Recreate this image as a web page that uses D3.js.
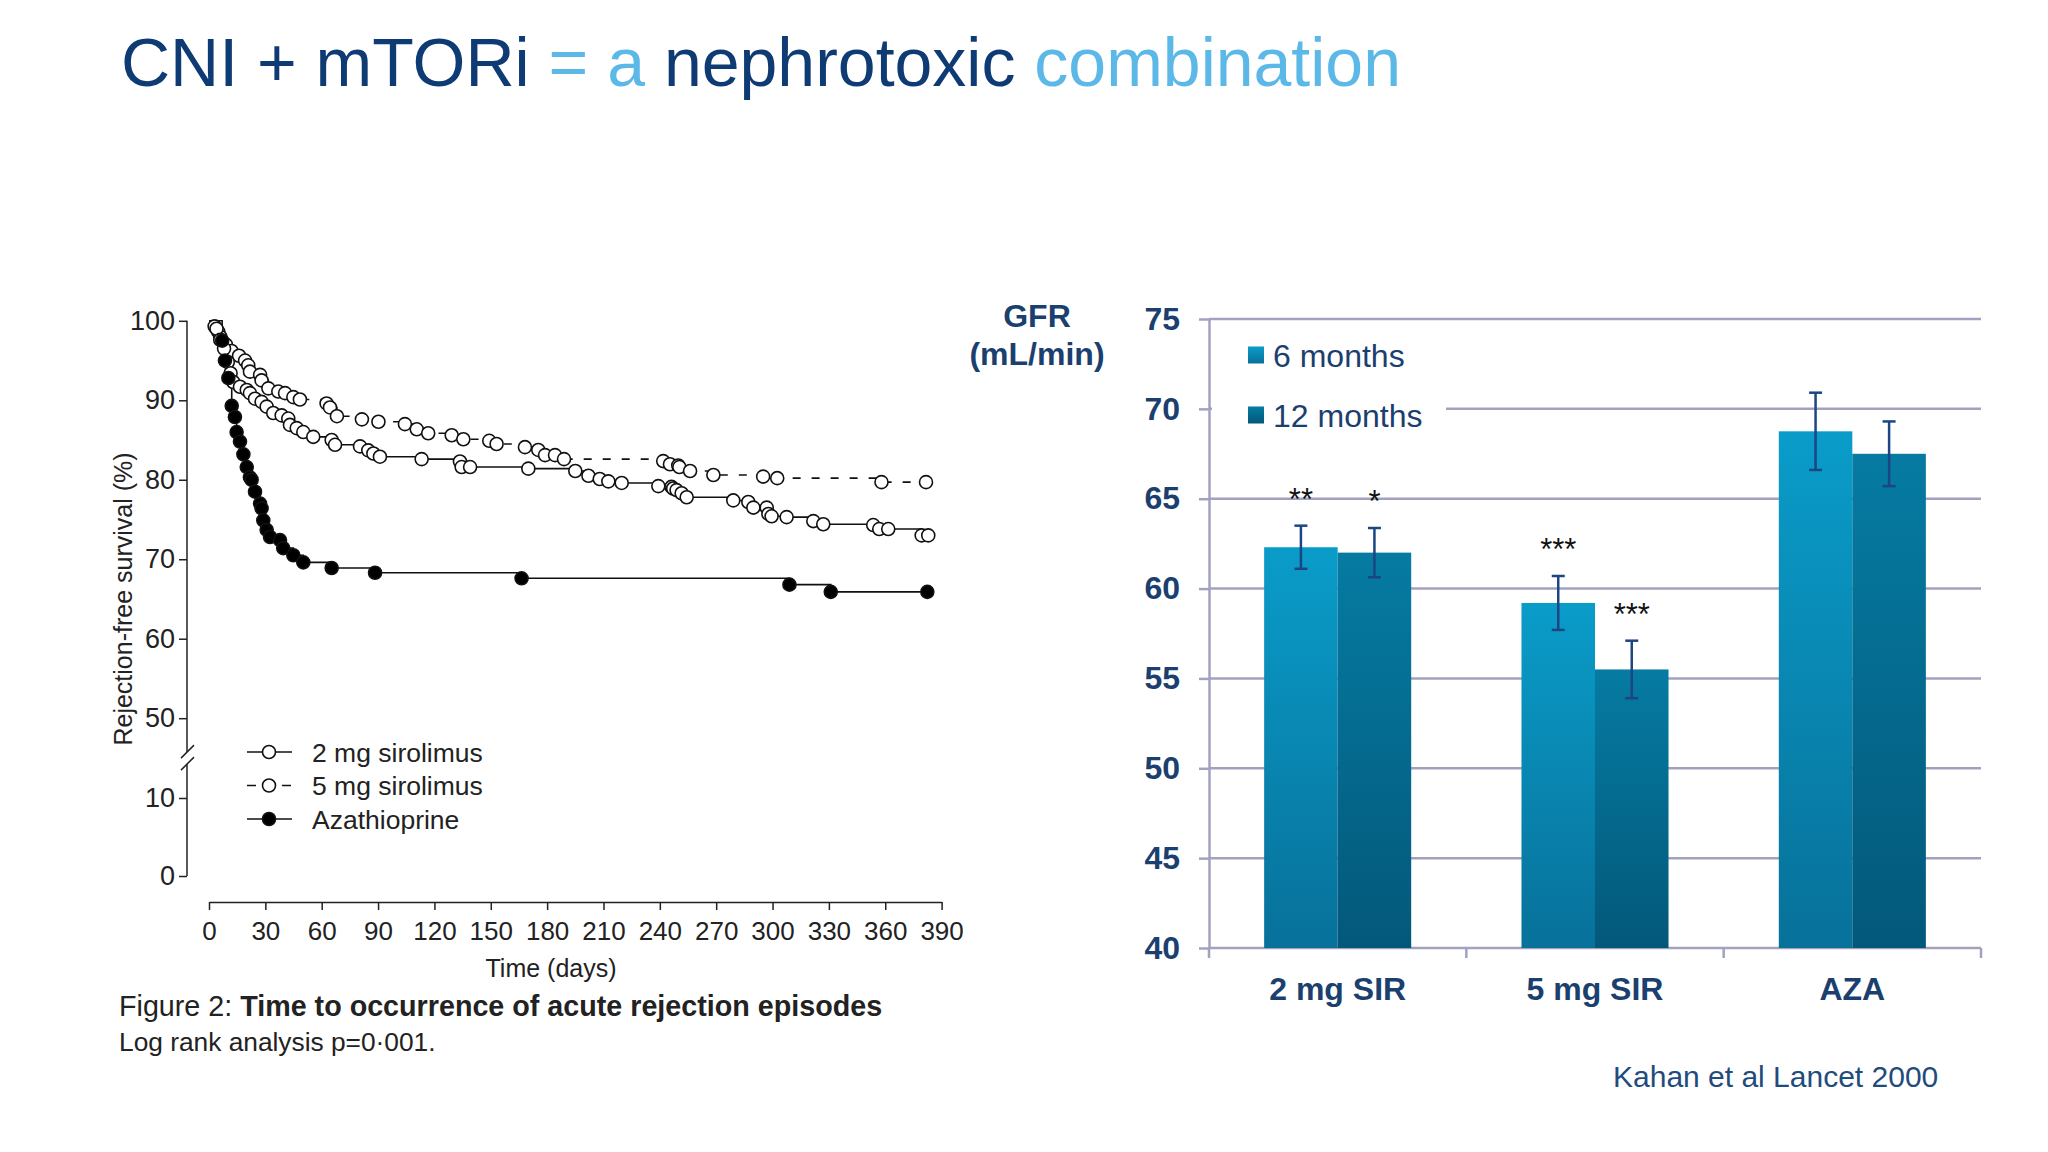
<!DOCTYPE html>
<html>
<head>
<meta charset="utf-8">
<script src="https://cdn.jsdelivr.net/npm/d3@7"></script>
<style>
  html, body { margin: 0; padding: 0; background: #fff; }
  svg { display: block; font-family: "Liberation Sans", Arial, sans-serif; }
</style>
</head>
<body>
<svg id="chart" width="2048" height="1152"></svg>
<script>
// ---------- data ----------
const titleParts = ["CNI + mTORi ", "= a ", "nephrotoxic ", "combination"];

// Kaplan-Meier curves, [day, rejection-free survival %]
const sir2mg = [[0,100],[4,99.0],[6,97.6],[8,96.5],[10,94.8],[11.5,93.4],[12.9,92.3],[16.5,91.7],[20.1,91.3],
  [21.8,90.9],[24.5,90.2],[28,89.8],[30.7,89.2],[34.2,88.4],[38.7,88.1],[42.2,87.7],[43.1,86.9],[46.7,86.5],
  [50.2,86.0],[55.5,85.4],[65.3,85.0],[67.1,84.4],[80.4,84.2],[84.8,83.7],[87.5,83.3],[91,82.9],[113.2,82.6],
  [133.6,82.3],[134.5,81.6],[139,81.6],[170,81.4],[195,81.1],[202,80.5],[208,80.1],[212.6,79.8],[219.7,79.6],
  [239.2,79.2],[246.2,79.1],[247.1,78.9],[248.9,78.7],[251.6,78.3],[254.3,77.8],[279.1,77.4],[287.1,77.2],
  [289.8,76.5],[296.9,76.5],[297.8,75.7],[299.5,75.4],[307.5,75.3],[321.7,74.8],[327,74.4],[353.6,74.3],
  [356.8,73.8],[361.6,73.8],[379.4,73.0],[382.9,73.0]];
const sir5mg = [[0,100],[3,99.3],[5,98.6],[6,98.0],[9,97.0],[12,96.2],[16,95.6],[19.2,95.0],[20.9,94.4],
  [21.8,93.6],[27.2,93.2],[28,92.5],[31.6,91.5],[36.9,91.1],[40.5,90.9],[44.9,90.4],[48.4,90.1],[62.6,89.6],
  [64.4,89.1],[68.1,88.0],[81.4,87.6],[90.2,87.3],[104.3,87.0],[110.6,86.35],[116.7,85.85],[129.2,85.6],
  [135.4,85.1],[149.2,84.9],[153.1,84.5],[168.2,84.1],[175.3,83.75],[178.9,83.1],[184.2,83.1],[189,82.6],
  [241.8,82.35],[245.4,81.95],[249.8,81.8],[250.4,81.6],[256.1,81.1],[268.5,80.6],[295,80.4],[302.5,80.2],
  [358,79.7],[381.7,79.7]];
const azathioprine = [[0,100],[7,97.5],[8.5,95.0],[10.3,92.8],[12.1,89.3],[13.8,87.9],[14.7,86.0],[16.5,84.8],
  [18.3,83.2],[20.1,81.6],[21.8,80.3],[22.7,80.0],[24.5,78.5],[27.2,77.0],[28,76.4],[28.9,74.9],[30.7,73.7],
  [32.5,72.8],[37.8,72.4],[39.5,71.4],[44.9,70.5],[50.2,69.6],[65.3,68.9],[88.4,68.3],[166.4,67.6],
  [309,66.8],[331,65.9],[382.4,65.9]];
const kmLabels = ["2 mg sirolimus", "5 mg sirolimus", "Azathioprine"];
const dayTicks = [0,30,60,90,120,150,180,210,240,270,300,330,360,390];
const survivalTicks = [0,10,50,60,70,80,90,100];

// GFR bars
const gfrGroups = ["2 mg SIR", "5 mg SIR", "AZA"];
const gfrSeries = ["6 months", "12 months"];
const gfr6 = [62.3, 59.2, 68.75];
const gfr12 = [62.0, 55.5, 67.5];
const err6 = [1.2, 1.5, 2.15];
const err12 = [1.37, 1.6, 1.8];
const stars6 = ["**", "***", ""];
const stars12 = ["*", "***", ""];
const gfrTicks = [40,45,50,55,60,65,70,75];

// ---------- setup ----------
const svg = d3.select("#chart");
const navy = "#1b3f6e";

svg.append("rect").attr("width", 2048).attr("height", 1152).attr("fill", "#fff");

// title
const title = svg.append("text")
    .attr("x", 121).attr("y", 86)
    .attr("font-size", 68);
title.selectAll("tspan")
    .data(titleParts)
    .enter().append("tspan")
    .attr("fill", (d, i) => i % 2 === 0 ? "#0f3b74" : "#5cb8e6")
    .text(d => d);

// ---------- left: Kaplan-Meier ----------
const x = d3.scaleLinear().domain([0, 390]).range([209, 941.6]);
const y = d3.scaleLinear().domain([0, 10, 50, 100]).range([876, 798, 718.2, 320.8]);

const left = svg.append("g").attr("fill", "#222");

// y axis (with break)
const yAxis = left.append("g")
    .attr("transform", "translate(187,0)")
    .call(d3.axisLeft(y).tickValues(survivalTicks).tickSize(8).tickPadding(4));
yAxis.select(".domain").remove();
yAxis.selectAll("line").attr("stroke", "#222").attr("stroke-width", 1.5);
yAxis.selectAll("text").attr("font-size", 27).attr("fill", "#222")
    .attr("font-family", "Liberation Sans, Arial, sans-serif");

const yMid = (y(10) + y(50)) / 2;
left.append("line").attr("x1", 187).attr("x2", 187).attr("y1", y(100)).attr("y2", yMid - 6)
    .attr("stroke", "#222").attr("stroke-width", 1.5);
left.append("line").attr("x1", 187).attr("x2", 187).attr("y1", yMid + 6).attr("y2", y(0))
    .attr("stroke", "#222").attr("stroke-width", 1.5);
[-6, 6].forEach(off => {
    left.append("line")
        .attr("x1", 181).attr("y1", yMid + off + 6)
        .attr("x2", 194).attr("y2", yMid + off - 7)
        .attr("stroke", "#222").attr("stroke-width", 1.5);
});

// x axis
const xAxis = left.append("g")
    .attr("transform", "translate(0,902)")
    .call(d3.axisBottom(x).tickValues(dayTicks).tickSize(8).tickSizeOuter(0).tickPadding(12));
xAxis.selectAll("line, path").attr("stroke", "#222").attr("stroke-width", 1.5);
xAxis.selectAll("text").attr("font-size", 26).attr("fill", "#222")
    .attr("font-family", "Liberation Sans, Arial, sans-serif");

left.append("text")
    .attr("x", 551).attr("y", 977)
    .attr("text-anchor", "middle").attr("font-size", 25)
    .text("Time (days)");

left.append("text")
    .attr("transform", "translate(132,599) rotate(-90)")
    .attr("text-anchor", "middle").attr("font-size", 25)
    .text("Rejection-free survival (%)");

// curves
const km = d3.line()
    .x(d => x(d[0]))
    .y(d => y(d[1]))
    .curve(d3.curveStepAfter);

const curves = [
    { data: sir5mg, dash: "8,11", fill: "#fff" },
    { data: sir2mg, dash: null, fill: "#fff" },
    { data: azathioprine, dash: null, fill: "#000" }
];

curves.forEach(c => {
    left.append("path")
        .attr("d", km(c.data))
        .attr("fill", "none")
        .attr("stroke", "#111")
        .attr("stroke-width", 1.6)
        .attr("stroke-dasharray", c.dash);
});
curves.forEach(c => {
    left.append("g").selectAll("circle")
        .data(c.data.slice(1))
        .enter().append("circle")
        .attr("cx", d => x(d[0]))
        .attr("cy", d => y(d[1]))
        .attr("r", 6.5)
        .attr("fill", c.fill)
        .attr("stroke", "#111")
        .attr("stroke-width", 1.6);
});

// legend
const legendRows = [
    { label: kmLabels[0], dash: null, fill: "#fff" },
    { label: kmLabels[1], dash: "9,26", fill: "#fff" },
    { label: kmLabels[2], dash: null, fill: "#000" }
];
const lg = left.append("g").selectAll("g")
    .data(legendRows)
    .enter().append("g")
    .attr("transform", (d, i) => `translate(0,${752 + i * 33.5})`);
lg.append("line")
    .attr("x1", 247).attr("x2", 292)
    .attr("stroke", "#111").attr("stroke-width", 1.6)
    .attr("stroke-dasharray", d => d.dash);
lg.append("circle")
    .attr("cx", 269).attr("r", 6.5)
    .attr("fill", d => d.fill).attr("stroke", "#111").attr("stroke-width", 1.6);
lg.append("text")
    .attr("x", 312).attr("dy", "0.36em")
    .attr("font-size", 26.5)
    .text(d => d.label);

// caption
const cap = left.append("text").attr("x", 119).attr("y", 1016).attr("font-size", 28.7);
cap.append("tspan").text("Figure 2: ");
cap.append("tspan").attr("font-weight", "bold").text("Time to occurrence of acute rejection episodes");
left.append("text").attr("x", 119).attr("y", 1051).attr("font-size", 26.3)
    .text("Log rank analysis p=0·001.");

// ---------- right: GFR bars ----------
const x0 = d3.scaleBand().domain(gfrGroups).range([1209, 1981]);
const x1 = d3.scaleBand().domain(gfrSeries).range([0, x0.bandwidth()]).paddingOuter(0.75);
const yg = d3.scaleLinear().domain([40, 75]).range([948, 319]);

const defs = svg.append("defs");
const gradStops = [["#0a9cc9", "#07719a"], ["#067ba2", "#03587a"]];
gfrSeries.forEach((s, i) => {
    const g = defs.append("linearGradient")
        .attr("id", "grad" + i)
        .attr("x1", 0).attr("y1", 0).attr("x2", 0).attr("y2", 1);
    g.append("stop").attr("offset", "0%").attr("stop-color", gradStops[i][0]);
    g.append("stop").attr("offset", "100%").attr("stop-color", gradStops[i][1]);
});

const right = svg.append("g");
const gridColor = "#a2a2c0";

right.append("g").selectAll("line")
    .data(gfrTicks)
    .enter().append("line")
    .attr("x1", x0.range()[0]).attr("x2", x0.range()[1])
    .attr("y1", d => yg(d)).attr("y2", d => yg(d))
    .attr("stroke", gridColor).attr("stroke-width", 2.5);

const ya = right.append("g")
    .attr("transform", `translate(${x0.range()[0]},0)`)
    .call(d3.axisLeft(yg).tickValues(gfrTicks).tickSize(10).tickSizeOuter(0).tickPadding(19));
ya.selectAll("line, path").attr("stroke", gridColor).attr("stroke-width", 2.5);
ya.selectAll("text")
    .attr("font-size", 32).attr("font-weight", "bold").attr("fill", navy)
    .attr("font-family", "Liberation Sans, Arial, sans-serif");

// category boundary ticks
right.append("g").selectAll("line")
    .data(gfrGroups.map(g => x0(g)).concat([x0.range()[1]]))
    .enter().append("line")
    .attr("x1", d => d).attr("x2", d => d)
    .attr("y1", yg(40)).attr("y2", yg(40) + 10)
    .attr("stroke", gridColor).attr("stroke-width", 2.5);

right.append("g").selectAll("text")
    .data(gfrGroups)
    .enter().append("text")
    .attr("x", d => x0(d) + x0.bandwidth() / 2)
    .attr("y", 1000)
    .attr("text-anchor", "middle")
    .attr("font-size", 32).attr("font-weight", "bold").attr("fill", navy)
    .text(d => d);

// legend box (covers gridline)
right.append("rect")
    .attr("x", 1212).attr("y", 328).attr("width", 234).attr("height", 116)
    .attr("fill", "#fff");
const rl = right.append("g").selectAll("g")
    .data(gfrSeries)
    .enter().append("g")
    .attr("transform", (d, i) => `translate(1248,${355 + i * 60})`);
rl.append("rect")
    .attr("y", -8.5).attr("width", 16).attr("height", 17)
    .attr("fill", (d, i) => `url(#grad${i})`);
rl.append("text")
    .attr("x", 25).attr("dy", "0.36em")
    .attr("font-size", 32).attr("fill", navy)
    .text(d => d);

// bars
const barRows = gfrGroups.flatMap((g, i) => [
    { group: g, series: gfrSeries[0], s: 0, value: gfr6[i], err: err6[i], star: stars6[i] },
    { group: g, series: gfrSeries[1], s: 1, value: gfr12[i], err: err12[i], star: stars12[i] }
]);

const bars = right.append("g").selectAll("g")
    .data(barRows)
    .enter().append("g")
    .attr("transform", d => `translate(${x0(d.group) + x1(d.series)},0)`);

bars.append("rect")
    .attr("y", d => yg(d.value))
    .attr("width", x1.bandwidth())
    .attr("height", d => yg(40) - yg(d.value))
    .attr("fill", d => `url(#grad${d.s})`);

const cx = x1.bandwidth() / 2;
const errColor = "#1c4583";
bars.append("line")
    .attr("x1", cx).attr("x2", cx)
    .attr("y1", d => yg(d.value + d.err)).attr("y2", d => yg(d.value - d.err))
    .attr("stroke", errColor).attr("stroke-width", 2.5);
bars.append("line")
    .attr("x1", cx - 6.5).attr("x2", cx + 6.5)
    .attr("y1", d => yg(d.value + d.err)).attr("y2", d => yg(d.value + d.err))
    .attr("stroke", errColor).attr("stroke-width", 2.5);
bars.append("line")
    .attr("x1", cx - 6.5).attr("x2", cx + 6.5)
    .attr("y1", d => yg(d.value - d.err)).attr("y2", d => yg(d.value - d.err))
    .attr("stroke", errColor).attr("stroke-width", 2.5);

bars.append("text")
    .attr("x", cx)
    .attr("y", d => yg(d.value + d.err) - 16)
    .attr("text-anchor", "middle")
    .attr("font-size", 31).attr("fill", "#111")
    .text(d => d.star);

// GFR axis label
right.append("text").attr("x", 1037).attr("y", 327)
    .attr("text-anchor", "middle").attr("font-size", 32).attr("font-weight", "bold").attr("fill", navy)
    .text("GFR");
right.append("text").attr("x", 1037).attr("y", 365)
    .attr("text-anchor", "middle").attr("font-size", 32).attr("font-weight", "bold").attr("fill", navy)
    .text("(mL/min)");

// citation
svg.append("text").attr("x", 1613).attr("y", 1087)
    .attr("font-size", 30).attr("fill", "#1f4c7c")
    .text("Kahan et al Lancet 2000");
</script>
</body>
</html>
